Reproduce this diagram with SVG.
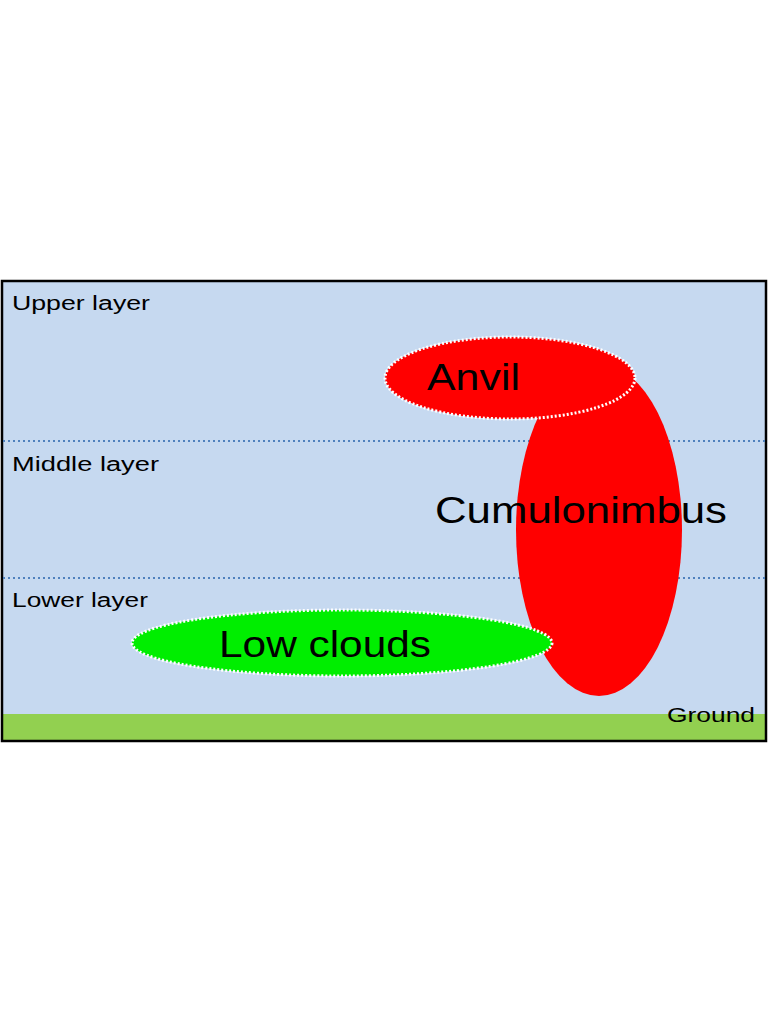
<svg xmlns="http://www.w3.org/2000/svg" width="768" height="1024" viewBox="0 0 768 1024">
<style>
.s{font-family:"Liberation Sans","DejaVu Sans",sans-serif;font-size:20px;fill:#000}
.b{font-family:"Liberation Sans","DejaVu Sans",sans-serif;font-size:37px;fill:#000}
.d{stroke:#4f81bd;stroke-width:2;stroke-dasharray:2 3}
.w{stroke:#fff;stroke-width:3;stroke-dasharray:2 2}
</style>
<rect width="768" height="1024" fill="#fff"/>
<rect x="2" y="281" width="764" height="460" fill="#c6d9f0"/>
<rect x="2" y="714" width="764" height="27" fill="#92d050"/>
<rect x="2" y="281" width="764" height="460" fill="none" stroke="#000" stroke-width="2.5"/>
<line class="d" x1="3" y1="441" x2="765" y2="441"/>
<line class="d" x1="3" y1="578" x2="765" y2="578"/>
<g id="cumulonimbus"><ellipse cx="599" cy="530" rx="83" ry="166" fill="#ff0000"/>
<text class="b" x="435" y="523" textLength="292" lengthAdjust="spacingAndGlyphs">Cumulonimbus</text></g>
<g id="anvil"><ellipse class="w" cx="510" cy="378" rx="125" ry="41" fill="#ff0000"/>
<text class="b" x="427" y="390" textLength="93" lengthAdjust="spacingAndGlyphs">Anvil</text></g>
<g id="lowclouds"><ellipse class="w" cx="342" cy="643" rx="210" ry="33" fill="#00ee00"/>
<text class="b" x="219" y="657" textLength="212" lengthAdjust="spacingAndGlyphs">Low clouds</text></g>
<text class="s" x="12" y="310" textLength="138" lengthAdjust="spacingAndGlyphs">Upper layer</text>
<text class="s" x="12" y="471" textLength="147" lengthAdjust="spacingAndGlyphs">Middle layer</text>
<text class="s" x="12" y="607" textLength="136" lengthAdjust="spacingAndGlyphs">Lower layer</text>
<text class="s" x="667" y="722" textLength="88" lengthAdjust="spacingAndGlyphs">Ground</text>
</svg>
